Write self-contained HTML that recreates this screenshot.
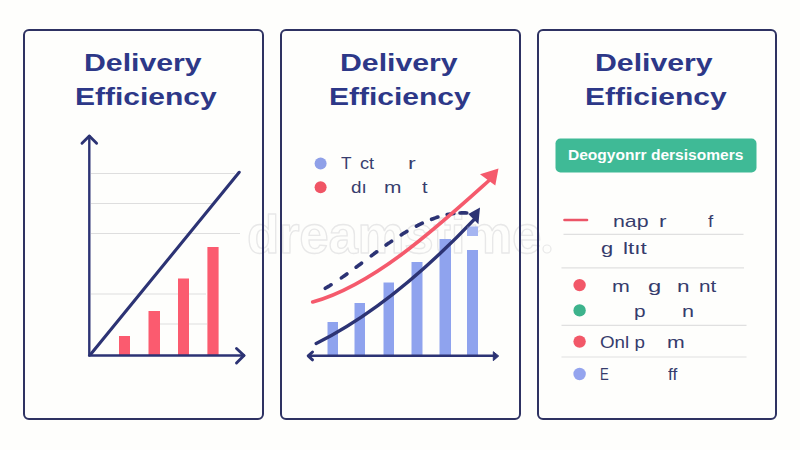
<!DOCTYPE html>
<html><head><meta charset="utf-8">
<style>
html,body{margin:0;padding:0;}
body{width:800px;height:450px;background:#fefefc;position:relative;overflow:hidden;font-family:"Liberation Sans",sans-serif;}
.card{position:absolute;top:29px;height:387px;width:237px;border:2px solid #2e3262;border-radius:6px;box-sizing:content-box;}
.t{position:absolute;font-weight:700;color:#2d3888;font-size:24px;line-height:1;white-space:pre;transform-origin:0 0;}
.x{position:absolute;color:#363c6c;font-size:16px;line-height:1;white-space:pre;transform-origin:0 0;}
svg{position:absolute;left:0;top:0;}
</style></head>
<body>
<svg width="800" height="450" viewBox="0 0 800 450" style="position:absolute;left:0;top:0">
  <text x="247" y="253" font-family="Liberation Sans" font-weight="700" font-size="53" letter-spacing="-0.35" fill="none" stroke="#e8e8e8" stroke-width="1.3" stroke-linejoin="round">dreamstime</text>
  <circle cx="547" cy="249" r="4" fill="none" stroke="#e8e8e8" stroke-width="1.2"/>
</svg>
<div class="card" style="left:23px"></div>
<div class="card" style="left:280px"></div>
<div class="card" style="left:537px;width:236px"></div>

<!-- titles -->
<div class="t" id="t1a" style="left:84px;top:51px;transform:scaleX(1.26)">Delivery</div>
<div class="t" id="t1b" style="left:74.6px;top:85px;transform:scaleX(1.25)">Efficiency</div>
<div class="t" id="t2a" style="left:340px;top:51px;transform:scaleX(1.26)">Delivery</div>
<div class="t" id="t2b" style="left:329.2px;top:85px;transform:scaleX(1.25)">Efficiency</div>
<div class="t" id="t3a" style="left:595px;top:51px;transform:scaleX(1.26)">Delivery</div>
<div class="t" id="t3b" style="left:584.9px;top:85px;transform:scaleX(1.25)">Efficiency</div>

<svg width="800" height="450" viewBox="0 0 800 450">
  <!-- card 1 chart -->
  <g stroke="#dedede" stroke-width="1">
    <line x1="91" y1="173.5" x2="235" y2="173.5"/>
    <line x1="91" y1="203.5" x2="212" y2="203.5"/>
    <line x1="91" y1="233.5" x2="240" y2="233.5"/>
    <line x1="91" y1="294" x2="206" y2="294"/>
    <line x1="160" y1="324" x2="207" y2="324"/>
  </g>
  <g fill="#fb5b6f">
    <rect x="119" y="336" width="11" height="20"/>
    <rect x="148.5" y="311" width="11.5" height="45"/>
    <rect x="178" y="278.5" width="11" height="77.5"/>
    <rect x="207.4" y="247" width="11.2" height="108.5"/>
  </g>
  <g stroke="#2c3374" stroke-width="2.6" fill="none" stroke-linecap="round" stroke-linejoin="round">
    <line x1="89.3" y1="355.5" x2="89.3" y2="136" stroke-width="2.4"/>
    <polyline points="82,143.2 89.3,136 96.6,143.2" stroke-width="2.9"/>
    <line x1="89.3" y1="355.5" x2="244" y2="355.5" stroke-width="2.6"/>
    <polyline points="236.5,348.5 244,355.5 236.5,363" stroke-width="2.9"/>
    <line x1="90.5" y1="354.5" x2="239.2" y2="172.3" stroke-width="3.1"/>
  </g>

  <!-- card 2 chart -->
  <g fill="#8fa3ee">
    <rect x="327.5" y="322" width="10.5" height="33"/>
    <rect x="354.5" y="303" width="10.5" height="52"/>
    <rect x="383.5" y="282.5" width="10.5" height="72.5"/>
    <rect x="411.5" y="262" width="11" height="93"/>
    <rect x="439.5" y="239" width="11.5" height="116"/>
    <rect x="467" y="226.5" width="11" height="128.5"/>
  </g>
  <g stroke="#2c3374" stroke-width="2.4" fill="none" stroke-linecap="round" stroke-linejoin="round">
    <line x1="309" y1="355.8" x2="494" y2="355.8"/>
    <polyline points="312.5,352 308.2,355.8 312.5,359.8" stroke-width="3"/>
  </g>
  <polygon points="498.7,356 493.3,351.7 493.3,360.7" fill="#2c3374" stroke="#2c3374" stroke-width="1" stroke-linejoin="round"/>
  <path d="M325.3,288.3 326.6,287.5 328.1,286.6 329.6,285.7 331.0,284.8 M341.4,277.9 342.8,276.9 344.1,276.0 345.5,275.0 346.9,274.0 M356.1,267.2 357.4,266.3 358.8,265.2 360.2,264.2 361.5,263.2 M371.3,255.9 372.6,254.9 374.0,253.8 375.4,252.8 376.7,251.8 M386.1,245.0 387.4,244.1 388.9,243.1 390.3,242.1 391.6,241.2 M401.2,234.9 402.6,234.0 404.0,233.1 405.5,232.2 406.9,231.4 M416.4,226.1 417.8,225.4 419.3,224.6 420.8,223.9 422.3,223.2 M431.6,219.3 433.2,218.7 434.7,218.1 436.2,217.6 437.9,217.1 M447.2,214.6 448.8,214.3 450.5,214.0 452.1,213.8 453.8,213.5 M460.0,213.0 461.7,212.9 463.4,212.9 465.1,212.9 466.8,213.0" stroke="#2c3374" stroke-width="3.6" fill="none" stroke-linecap="round" stroke-linejoin="round"/>
  <path d="M312.7,302 C374.5,285 439.5,225 488.5,181" stroke="#f55a6c" stroke-width="3.6" fill="none" stroke-linecap="round"/>
  <polygon points="498.5,168.5 480,174.3 495.3,185.6" fill="#f55a6c"/>
  <path d="M316.2,343.5 C377,313.2 429.5,266.8 476.2,217.3" stroke="#2c3374" stroke-width="3.4" fill="none" stroke-linecap="round"/>
  <polygon points="480,207.6 468.3,214 478.4,224.2" fill="#2c3374"/>
  
  <rect x="466" y="236" width="13" height="14" fill="#fefefc"/>
  <rect x="467" y="226.5" width="11" height="9.5" fill="#fff" fill-opacity="0.2"/>

  <!-- card 2 legend dots -->
  <circle cx="320.6" cy="163.6" r="6" fill="#8fa0e8"/>
  <circle cx="320.6" cy="187.3" r="6" fill="#f05565"/>

  <!-- card 3 -->
  <rect x="555.5" y="138.5" width="201" height="34" rx="5" fill="#3fba96"/>
  <line x1="564.5" y1="220" x2="587" y2="220" stroke="#ec5567" stroke-width="2.6" stroke-linecap="round"/>
  <g stroke="#e0e0e0" stroke-width="1.1">
    <line x1="563.5" y1="234.4" x2="743.5" y2="234.4"/>
    <line x1="561.5" y1="267.9" x2="744" y2="267.9"/>
    <line x1="561.5" y1="325.4" x2="746.5" y2="325.4"/>
    <line x1="561.5" y1="357" x2="746.5" y2="357"/>
  </g>
  <circle cx="579.6" cy="285.1" r="6.2" fill="#f25868"/>
  <circle cx="579.6" cy="310.4" r="6.2" fill="#3db38c"/>
  <circle cx="579.6" cy="341.6" r="6.2" fill="#f25868"/>
  <circle cx="579.6" cy="374" r="6.2" fill="#94a4ee"/>
</svg>

<!-- card 2 legend text -->
<div class="x" style="left:341.0px;top:155.6px;font-size:16px;transform:scaleX(1.078);color:#383e6e">T</div>
<div class="x" style="left:359.86px;top:155.6px;font-size:16px;transform:scaleX(1.136);color:#383e6e">ct</div>
<div class="x" style="left:407.75px;top:155.6px;font-size:16px;transform:scaleX(1.45);color:#383e6e">r</div>
<div class="x" style="left:350.82px;top:180.4px;font-size:16px;transform:scaleX(1.182);color:#383e6e">dı</div>
<div class="x" style="left:384.29px;top:180.4px;font-size:16px;transform:scaleX(1.309);color:#383e6e">m</div>
<div class="x" style="left:421.9px;top:180.4px;font-size:16px;transform:scaleX(1.25);color:#383e6e">t</div>
<!-- card 3 button text -->
<div class="x" style="left:567.5px;top:148px;font-size:14px;font-weight:700;color:#fff;transform:scaleX(1.11)">Deogyonrr dersisomers</div>

<!-- card 3 list -->
<div class="x" style="left:612.54px;top:212.6px;font-size:17px;transform:scaleX(1.256)">nap</div>
<div class="x" style="left:659.38px;top:212.6px;font-size:17px;transform:scaleX(1.325)">r</div>
<div class="x" style="left:707.7px;top:212.6px;font-size:17px;transform:scaleX(1.1)">f</div>
<div class="x" style="left:600.91px;top:240.3px;font-size:17px;transform:scaleX(1.286)">g</div>
<div class="x" style="left:622.68px;top:240.3px;font-size:17px;transform:scaleX(1.324)">ltıt</div>
<div class="x" style="left:612.44px;top:277.7px;font-size:17px;transform:scaleX(1.258)">m</div>
<div class="x" style="left:648.0px;top:277.7px;font-size:17px;transform:scaleX(1.4)">g</div>
<div class="x" style="left:677.37px;top:277.7px;font-size:17px;transform:scaleX(1.329)">n</div>
<div class="x" style="left:698.58px;top:277.7px;font-size:17px;transform:scaleX(1.215)">nt</div>
<div class="x" style="left:634.38px;top:302.9px;font-size:17px;transform:scaleX(1.225)">p</div>
<div class="x" style="left:682.33px;top:302.9px;font-size:17px;transform:scaleX(1.271)">n</div>
<div class="x" style="left:600.09px;top:333.9px;font-size:17px;transform:scaleX(1.105)">Onl p</div>
<div class="x" style="left:667.45px;top:333.9px;font-size:17px;transform:scaleX(1.25)">m</div>
<div class="x" style="left:599.53px;top:365.6px;font-size:17px;transform:scaleX(0.77)">E</div>
<div class="x" style="left:667.9px;top:365.6px;font-size:17px;transform:scaleX(1.011)">ff</div>
</body></html>
